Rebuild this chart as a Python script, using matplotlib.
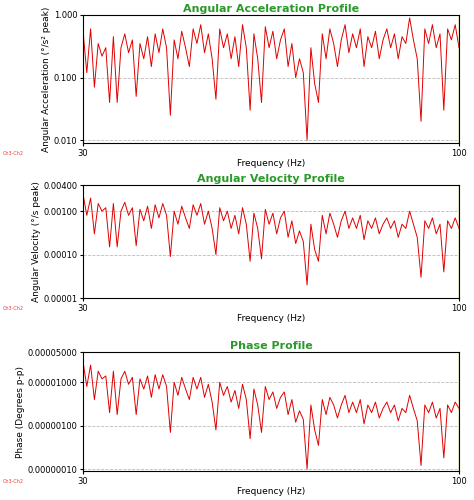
import numpy as np
import matplotlib
matplotlib.use("Agg")
import matplotlib.pyplot as plt

freq = np.linspace(30, 100, 100)
accel = [0.55,0.12,0.6,0.07,0.35,0.22,0.3,0.04,0.45,0.04,
0.3,0.5,0.25,0.4,0.05,0.35,0.2,0.45,0.15,0.5,
0.25,0.6,0.3,0.025,0.4,0.2,0.55,0.3,0.15,0.6,
0.35,0.7,0.25,0.5,0.2,0.045,0.6,0.3,0.5,0.2,
0.45,0.15,0.7,0.3,0.03,0.5,0.2,0.04,0.65,0.3,
0.55,0.2,0.4,0.6,0.15,0.35,0.1,0.2,0.12,0.01,
0.3,0.08,0.04,0.5,0.2,0.6,0.35,0.15,0.4,0.7,
0.25,0.5,0.3,0.6,0.15,0.45,0.3,0.55,0.2,0.4,
0.6,0.3,0.5,0.2,0.45,0.35,0.9,0.4,0.2,0.02,
0.6,0.35,0.7,0.3,0.5,0.03,0.6,0.4,0.7,0.3]
velocity = [2.5e-3,8e-4,2e-3,3e-4,1.5e-3,1e-3,1.2e-3,1.5e-4,1.5e-3,1.5e-4,
1e-3,1.6e-3,8e-4,1.2e-3,1.6e-4,1.1e-3,6e-4,1.3e-3,4e-4,1.4e-3,
7e-4,1.5e-3,8e-4,9e-5,1e-3,5e-4,1.3e-3,7e-4,4e-4,1.4e-3,
8e-4,1.5e-3,5e-4,1e-3,4e-4,1.0e-4,1.2e-3,6e-4,1e-3,4e-4,
8e-4,3e-4,1.2e-3,5e-4,7e-5,9e-4,4e-4,8e-5,1.1e-3,5e-4,
9e-4,3e-4,7e-4,1e-3,2.5e-4,6e-4,1.8e-4,3.5e-4,2e-4,2e-5,
5e-4,1.3e-4,7e-5,8e-4,3e-4,9e-4,5e-4,2.5e-4,6e-4,1e-3,
4e-4,7e-4,4e-4,8e-4,2.2e-4,6e-4,4e-4,7e-4,3e-4,5e-4,
7e-4,4e-4,6e-4,2.5e-4,5e-4,4e-4,1e-3,5e-4,2.5e-4,3e-5,
6e-4,4e-4,7e-4,3e-4,5e-4,4e-5,6e-4,4e-4,7e-4,4e-4]
phase = [3e-5,8e-6,2.5e-5,4e-6,1.8e-5,1.2e-5,1.4e-5,2e-6,1.8e-5,1.8e-6,
1.2e-5,1.8e-5,9e-6,1.3e-5,1.8e-6,1.2e-5,7e-6,1.4e-5,4.5e-6,1.5e-5,
7e-6,1.5e-5,8e-6,7e-7,1e-5,5e-6,1.3e-5,7e-6,4e-6,1.3e-5,
7e-6,1.3e-5,4.5e-6,9e-6,3.5e-6,8e-7,1e-5,5e-6,8e-6,3.5e-6,
6.5e-6,2.5e-6,9e-6,4e-6,5e-7,7e-6,3e-6,7e-7,8e-6,4e-6,
6e-6,2.5e-6,4.5e-6,6e-6,1.8e-6,4e-6,1.2e-6,2.2e-6,1.4e-6,1e-7,
3e-6,8e-7,3.5e-7,4e-6,1.8e-6,4.5e-6,3e-6,1.5e-6,3e-6,5e-6,
2e-6,3.5e-6,2e-6,4e-6,1.1e-6,3e-6,2e-6,3.5e-6,1.5e-6,2.5e-6,
3.5e-6,2e-6,3e-6,1.3e-6,2.5e-6,2e-6,5e-6,2.5e-6,1.3e-6,1.2e-7,
3e-6,2e-6,3.5e-6,1.5e-6,2.5e-6,1.8e-7,3e-6,2e-6,3.5e-6,2.5e-6]

panels = [
    ("Angular Acceleration Profile", "Angular Acceleration (°/s² peak)", accel,
     (0.009, 1.0), [0.01, 0.1, 1.0], ["0.010", "0.100", "1.000"]),
    ("Angular Velocity Profile", "Angular Velocity (°/s peak)", velocity,
     (1e-5, 4e-3), [1e-5, 1e-4, 1e-3, 4e-3], ["0.00001", "0.00010", "0.00100", "0.00400"]),
    ("Phase Profile", "Phase (Degrees p-p)", phase,
     (9e-8, 5e-5), [1e-7, 1e-6, 1e-5, 5e-5], ["0.00000010", "0.00000100", "0.00001000", "0.00005000"]),
]
boxes = [(15, 143), (185, 298), (352, 471)]

fig = plt.figure(figsize=(4.74, 5.0), dpi=100)
for (title, ylab, vals, ylim, ticks, labels), (top, bot) in zip(panels, boxes):
    ax = fig.add_axes([83/474, 1 - bot/500, (459-83)/474, (bot-top)/500])
    ax.plot(freq, vals, color="#e00000", lw=0.7)
    ax.axvline(100, color="#a0a000", lw=1)
    ax.set_yscale("log")
    ax.set_xlim(30, 100)
    ax.set_ylim(*ylim)
    ax.set_yticks(ticks)
    ax.set_yticklabels(labels)
    ax.minorticks_off()
    ax.set_xticks([30, 100])
    ax.set_xticklabels(["30", "100"])
    ax.tick_params(labelsize=6, length=2, pad=2)
    for t in ticks:
        ax.axhline(t, color="#bbbbbb", ls="--", lw=0.6, zorder=0)
    ax.set_title(title, color="#2a9a2a", fontsize=8, fontweight="bold", pad=2)
    ax.set_ylabel(ylab, fontsize=6.5, labelpad=2)
    ax.set_xlabel("Frequency (Hz)", fontsize=6.5, labelpad=1)
    fig.text(3/474, 1 - (bot + 12)/500, "Ch3-Ch2", color="#e04040", fontsize=3.5)
fig.savefig("out.png", dpi=100)
